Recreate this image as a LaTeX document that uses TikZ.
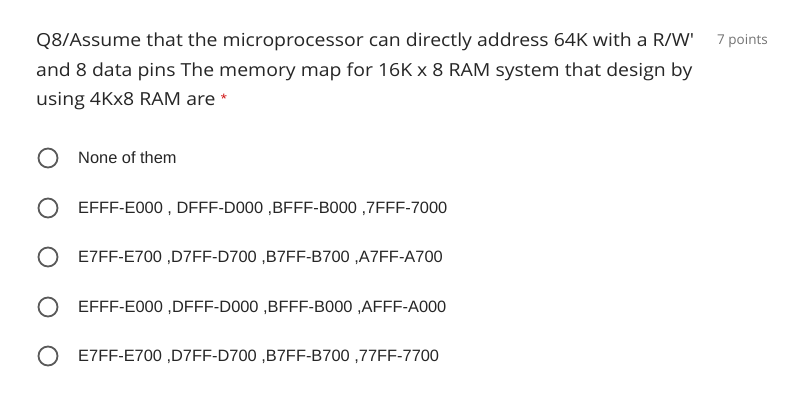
\documentclass[tikz,border=0pt]{standalone}
\usepackage{fontspec}
\setmainfont{Open Sans}
\newfontfamily\qfont[FakeStretch=1.08]{Open Sans}
\newfontfamily\optfont{Liberation Sans}
\begin{document}
\begin{tikzpicture}[x=1pt,y=-1pt,
  qtext/.style={anchor=base west,inner sep=0pt,font=\qfont\fontsize{18}{20}\selectfont,text=black!85},
  otext/.style={anchor=base west,inner sep=0pt,font=\optfont\fontsize{16.4}{18}\selectfont,text=black!85},
  radio/.style={draw=black!65,line width=1.8pt,circle,minimum size=19pt,inner sep=0pt}]
\fill[white] (0,0) rectangle (800,407);
\useasboundingbox (0,0) rectangle (800,407);
\node[qtext] (q1) at (36,46) {Q8/Assume that the microprocessor can directly address 64K with a R/W'};
\node[qtext] (q2) at (36,76) {and 8 data pins The memory map for 16K x 8 RAM system that design by};
\node[qtext] (q3) at (36,105) {using 4Kx8 RAM are \textcolor{red!80!black}{\raisebox{3pt}{\fontsize{11}{12}\selectfont *}}};
\node[anchor=base west,inner sep=0pt,font=\fontsize{13.5}{14}\selectfont,text=black!55] (pts) at (717,44) {7 points};
\foreach \i/\y/\t in {1/158/None of them,
  2/208/{EFFF-E000 , DFFF-D000 ,BFFF-B000 ,7FFF-7000},
  3/257/{E7FF-E700 ,D7FF-D700 ,B7FF-B700 ,A7FF-A700},
  4/307/{EFFF-E000 ,DFFF-D000 ,BFFF-B000 ,AFFF-A000},
  5/356/{E7FF-E700 ,D7FF-D700 ,B7FF-B700 ,77FF-7700}}{
  \node[radio] (r\i) at (48,\y) {};
  \node[otext] (o\i) at (78,\y+5.8) {\t};
}
\end{tikzpicture}
\end{document}
